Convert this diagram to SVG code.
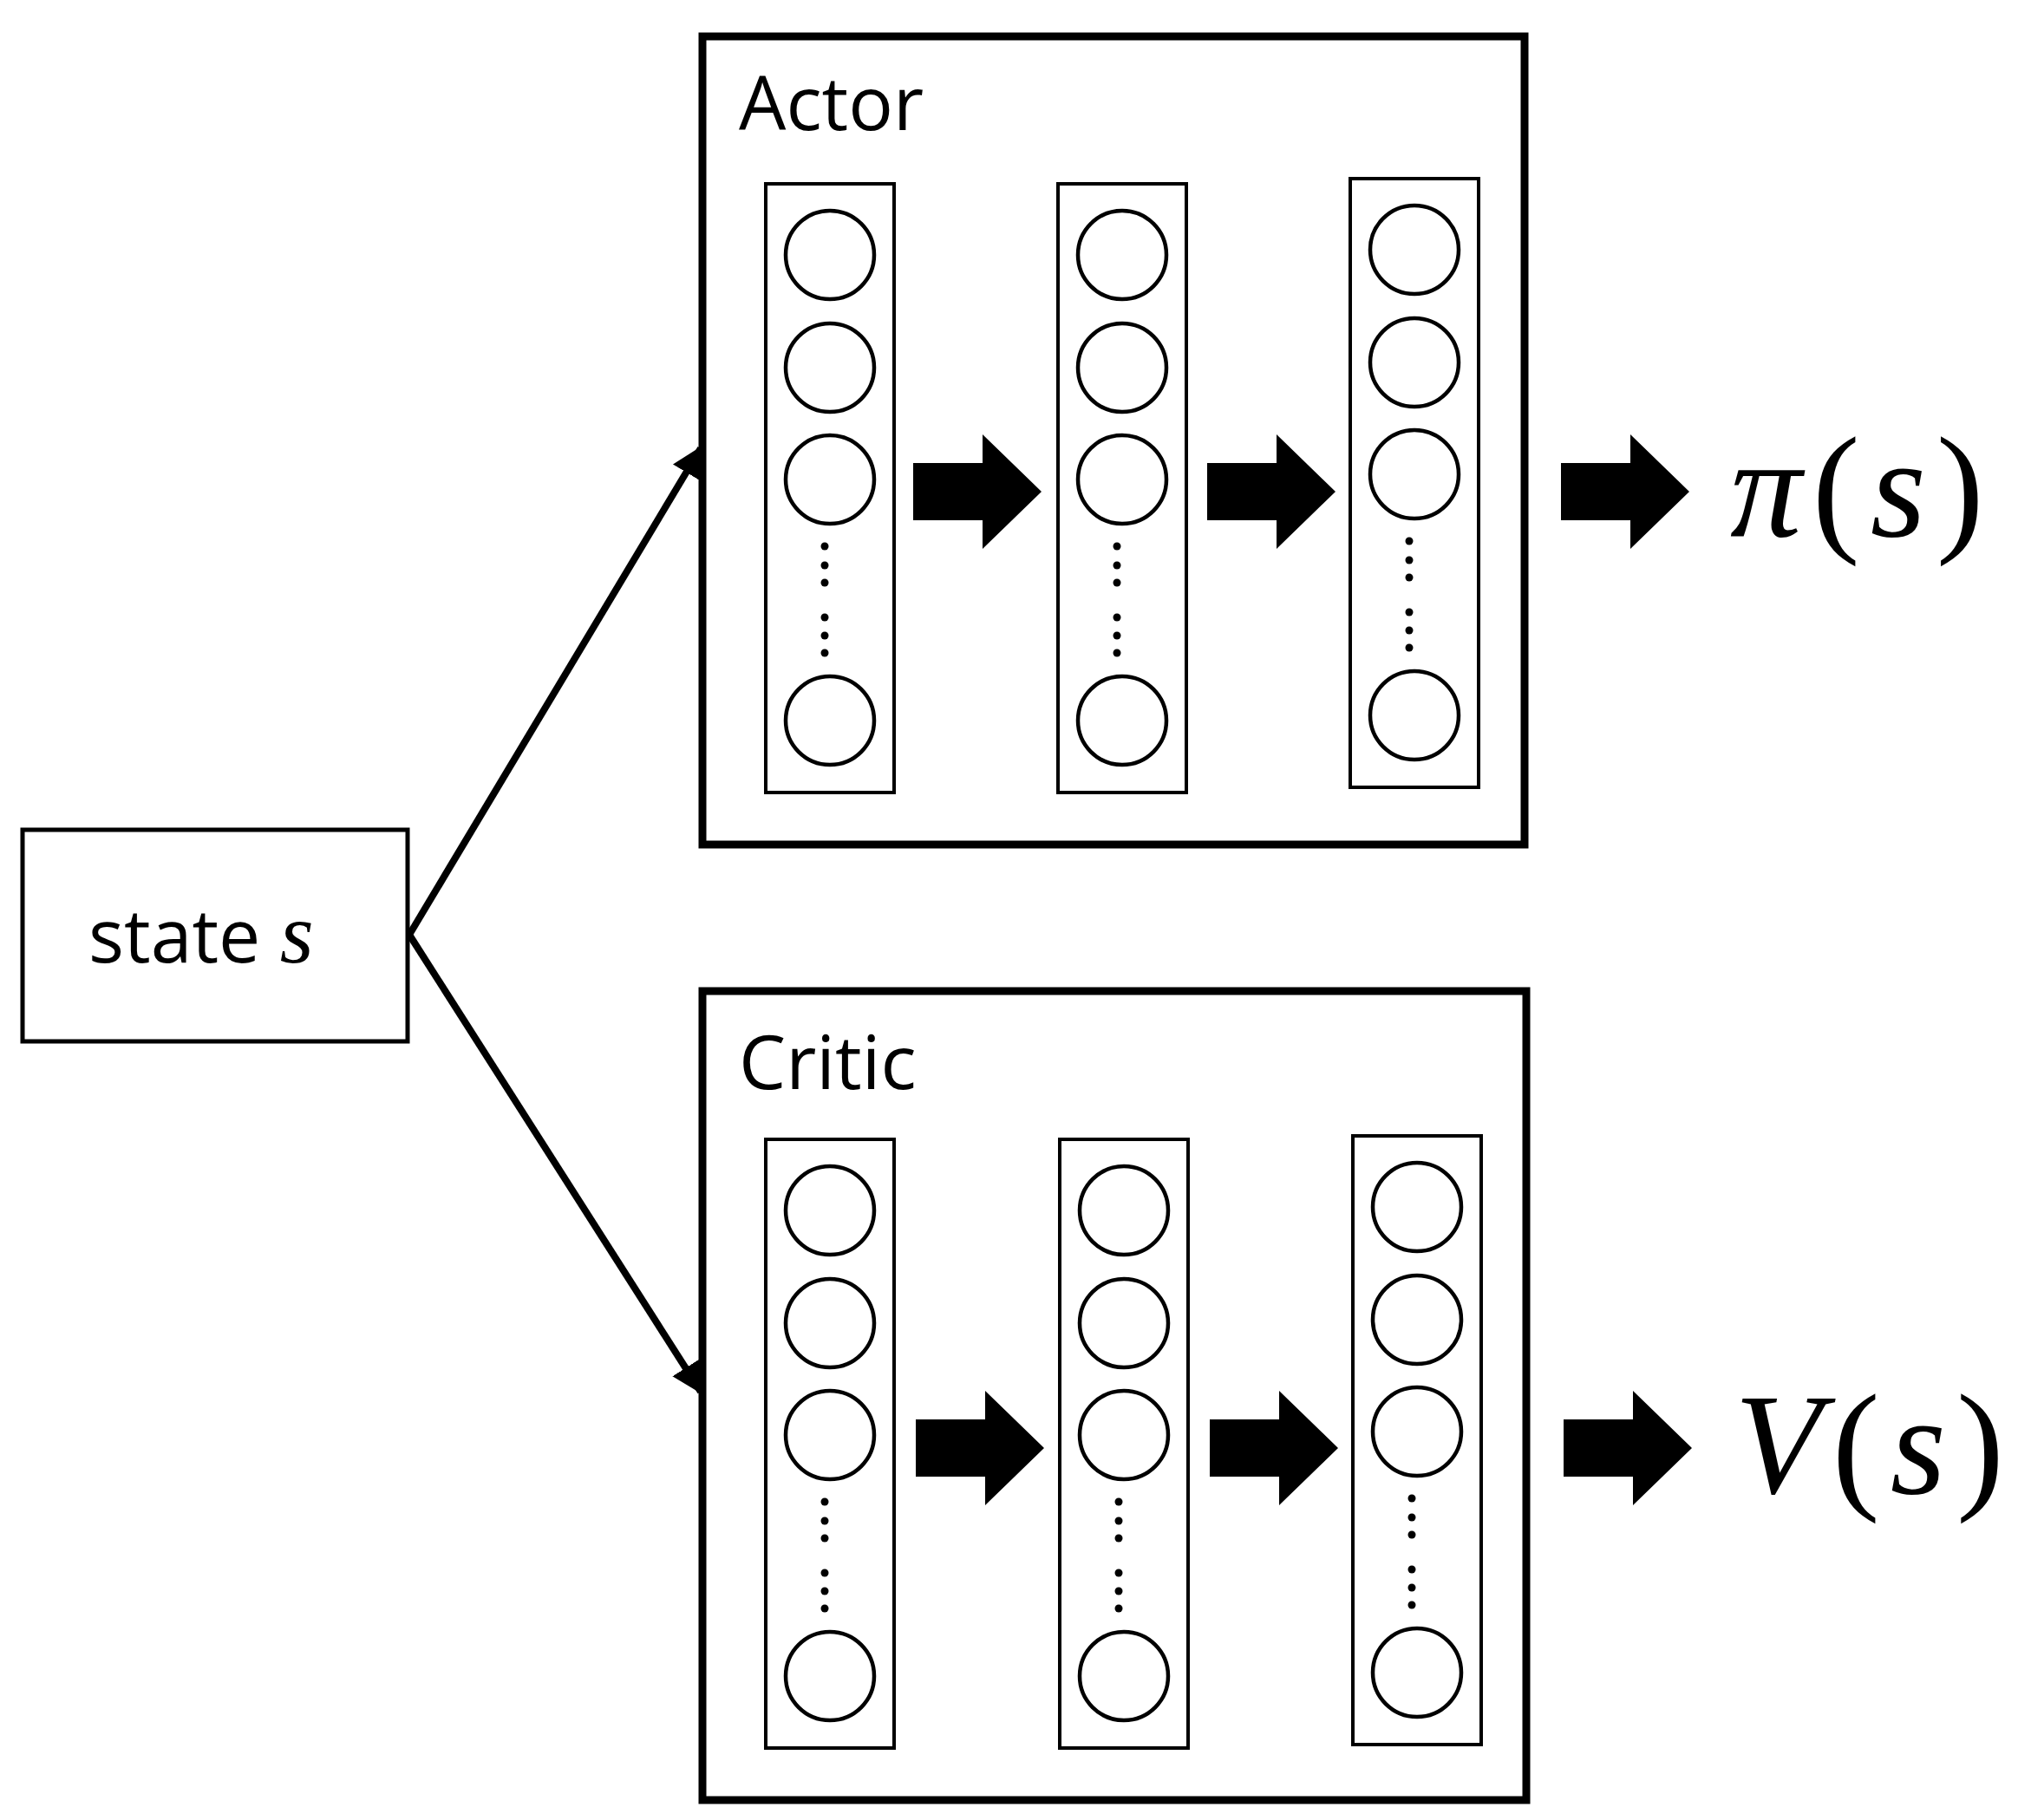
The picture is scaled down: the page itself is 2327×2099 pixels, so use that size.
<svg xmlns="http://www.w3.org/2000/svg" width="2327" height="2099" viewBox="0 0 2327 2099">
<style>
.box{fill:#fff;stroke:#000;stroke-width:9}
.lay{fill:#fff;stroke:#000;stroke-width:4}
.n{fill:#fff;stroke:#000;stroke-width:4.5}
.lbl{font-family:"Open Sans","Liberation Sans",sans-serif;font-size:86px}
.m{font-family:"Liberation Serif",serif;font-size:165px}
.ba{fill:#000}
</style>
<defs>
<g id="layer">
<rect class="lay" x="-74" y="0" width="148" height="702"/>
<circle class="n" cx="0" cy="82" r="51"/>
<circle class="n" cx="0" cy="212" r="51"/>
<circle class="n" cx="0" cy="341" r="51"/>
<circle class="n" cx="0" cy="619" r="51"/>
<g fill="#000"><circle cx="-6" cy="418" r="4.5"/><circle cx="-6" cy="440" r="4.5"/><circle cx="-6" cy="460" r="4.5"/><circle cx="-6" cy="500" r="4.5"/><circle cx="-6" cy="521" r="4.5"/><circle cx="-6" cy="541" r="4.5"/></g>
</g>
<polygon id="barrow" class="ba" points="0,-33 80,-33 80,-66 148,0 80,66 80,33 0,33"/>
<marker id="ah" viewBox="0 0 10 10" refX="9" refY="5" markerWidth="4.5" markerHeight="4.5" orient="auto"><path d="M0,0 L10,5 L0,10 z"/></marker>
</defs>
<rect width="2327" height="2099" fill="#fff"/>
<g id="state"><rect x="26" y="957" width="444" height="244" fill="#fff" stroke="#000" stroke-width="5"/>
<text x="102" y="1110" class="lbl" font-size="80">state <tspan font-family="Liberation Serif,serif" font-style="italic" font-size="100">s</tspan></text></g>
<g id="actor">
<rect class="box" x="810" y="42" width="948" height="932"/>
<text x="852" y="150" class="lbl" font-size="88">Actor</text>
<use href="#layer" x="957" y="212"/>
<use href="#layer" x="1294" y="212"/>
<use href="#layer" x="1631" y="206"/>
<use href="#barrow" x="1053" y="567"/>
<use href="#barrow" x="1392" y="567"/>
</g>
<g id="critic">
<rect class="box" x="810" y="1143" width="950" height="933"/>
<text x="852" y="1256" class="lbl" font-size="88">Critic</text>
<use href="#layer" x="957" y="1314"/>
<use href="#layer" x="1296" y="1314"/>
<use href="#layer" x="1634" y="1310"/>
<use href="#barrow" x="1056" y="1670"/>
<use href="#barrow" x="1395" y="1670"/>
</g>
<g id="pi"><text x="1995" y="618" class="m" letter-spacing="12"><tspan font-style="italic">π</tspan>(<tspan font-style="italic">s</tspan>)</text></g>
<g id="v"><text x="2000" y="1722" class="m" letter-spacing="12"><tspan font-style="italic">V</tspan>(<tspan font-style="italic">s</tspan>)</text></g>
<g id="connectors">
<line x1="472" y1="1078" x2="808" y2="517" stroke="#000" stroke-width="8" marker-end="url(#ah)"/>
<line x1="472" y1="1078" x2="808" y2="1605" stroke="#000" stroke-width="8" marker-end="url(#ah)"/>
<use href="#barrow" x="1800" y="567"/>
<use href="#barrow" x="1803" y="1670"/>
</g>
</svg>
